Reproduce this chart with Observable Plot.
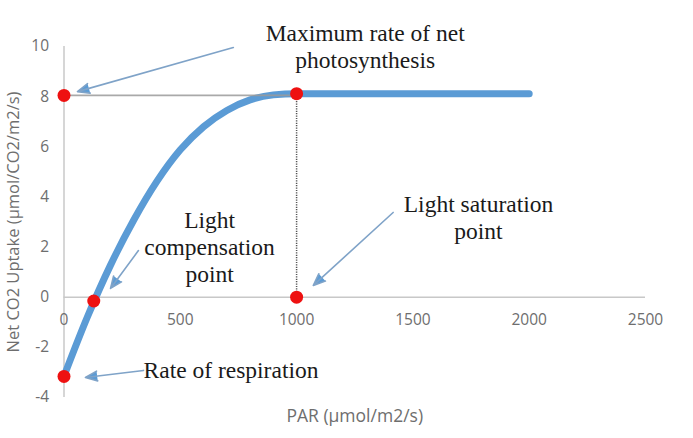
<!DOCTYPE html>
<html>
<head>
<meta charset="utf-8">
<script src="https://cdn.jsdelivr.net/npm/d3@7"></script>
<script src="https://cdn.jsdelivr.net/npm/@observablehq/plot@0.6"></script>
<style>
  html, body { margin: 0; padding: 0; background: #fff; }
  #chart svg { display: block; }
</style>
</head>
<body>
<div id="chart"></div>
<script>
// ---- data ----
const xTicks = [0, 500, 1000, 1500, 2000, 2500];
const yTicks = [-4, -2, 0, 2, 4, 6, 8, 10];

// light-response curve
const parValues    = [0, 100, 200, 300, 400, 500, 600, 700, 800, 900, 1000, 1500, 2000];
const uptakeValues = [-3.15, -0.8, 1.28, 3.08, 4.63, 5.88, 6.8, 7.45, 7.87, 8.07, 8.12, 8.12, 8.12];

// key points (red dots)
const keyPar    = [0, 1000, 128, 1000, 0];
const keyUptake = [8.05, 8.12, -0.15, 0, -3.16];

// centred annotation texts and their anchors (data units)
const noteTexts  = ["Maximum rate of net\nphotosynthesis", "Light\ncompensation\npoint", "Light saturation\npoint"];
const noteX      = [1295, 626, 1782];
const noteY      = [10.02, 2.02, 3.2];
// left-aligned annotation
const respText = "Rate of respiration";
const respX = 342;
const respY = -2.92;

// arrows: from -> to (data units)
const arrowX1 = [728, 320, 1415, 342];
const arrowY1 = [9.96, 1.86, 3.38, -2.92];
const arrowX2 = [58, 200, 1072, 92];
const arrowY2 = [8.2, 0.35, 0.47, -3.2];

const maxRate = 8.05;
const satPar = 1000;

const xTitle = "PAR (µmol/m2/s)";
const yTitle = "Net CO2 Uptake (µmol/CO2/m2/s)";

// ---- tables built from arrays ----
const curve = parValues.map((x, i) => ({x, y: uptakeValues[i]}));
const keys = keyPar.map((x, i) => ({x, y: keyUptake[i]}));
const notes = noteTexts.map((t, i) => ({t, x: noteX[i], y: noteY[i]}));
const arrows = arrowX1.map((x1, i) => ({x1, y1: arrowY1[i], x2: arrowX2[i], y2: arrowY2[i]}));

const sans = "'Open Sans', sans-serif";
const serif = "'Liberation Serif', 'Times New Roman', serif";
const annSize = 23.5;

const chart = Plot.plot({
  width: 693,
  height: 438,
  marginLeft: 63.5,
  marginRight: 48,
  marginTop: 46,
  marginBottom: 41,
  style: {background: "#fff", fontFamily: sans},
  x: {domain: [0, 2500], axis: null},
  y: {domain: [-4, 10], axis: null},
  marks: [
    // axis lines
    Plot.ruleX([0], {y1: -4, y2: 10, stroke: "#c8c8c8", strokeWidth: 1.5}),
    Plot.ruleY([0], {x1: 0, x2: 2500, stroke: "#c8c8c8", strokeWidth: 1.5}),
    // tick labels
    Plot.text(yTicks, {y: d => d, frameAnchor: "left", dx: -15, textAnchor: "end", text: d => String(d), fontSize: 15.5, fill: "#6e6e6e"}),
    Plot.text(xTicks, {x: d => d, y: 0, dy: 23, text: d => String(d), fontSize: 15.5, fill: "#6e6e6e"}),
    // axis titles
    Plot.text([yTitle], {frameAnchor: "left", dx: -50.5, rotate: -90, textAnchor: "middle", lineAnchor: "middle", text: d => d, fontSize: 16.5, fill: "#6e6e6e"}),
    Plot.text([xTitle], {frameAnchor: "bottom", dy: 19, textAnchor: "middle", lineAnchor: "middle", text: d => d, fontSize: 17.5, fill: "#6e6e6e"}),
    // curve
    Plot.line(curve, {x: "x", y: "y", curve: "monotone-x", stroke: "#5b9bd5", strokeWidth: 7, strokeLinecap: "round"}),
    // reference lines
    Plot.ruleY([maxRate], {x1: 0, x2: satPar, stroke: "#9a9a9a", strokeWidth: 1.8, strokeOpacity: 0.85}),
    Plot.ruleX([satPar], {y1: 0, y2: maxRate, stroke: "#555", strokeWidth: 1.5, strokeDasharray: "1.2,1.2"}),
    // key points
    Plot.dot(keys, {x: "x", y: "y", r: 6.5, fill: "#ee1111", stroke: "none"}),
    // arrows (filled heads)
    Plot.arrow(arrows, {x1: "x1", y1: "y1", x2: "x2", y2: "y2", stroke: "#7fa3c8", fill: "#5b9bd5", strokeWidth: 1.6, headLength: 12, headAngle: 45}),
    // annotations
    Plot.text(notes, {x: "x", y: "y", text: "t", textAnchor: "middle", lineAnchor: "middle", lineHeight: 1.15, fontSize: annSize, fontFamily: serif, fill: "#1a1a1a"}),
    Plot.text([respText], {x: respX, y: respY, text: d => d, textAnchor: "start", lineAnchor: "middle", fontSize: annSize, fontFamily: serif, fill: "#1a1a1a"})
  ]
});
document.getElementById("chart").appendChild(chart);
</script>
</body>
</html>
